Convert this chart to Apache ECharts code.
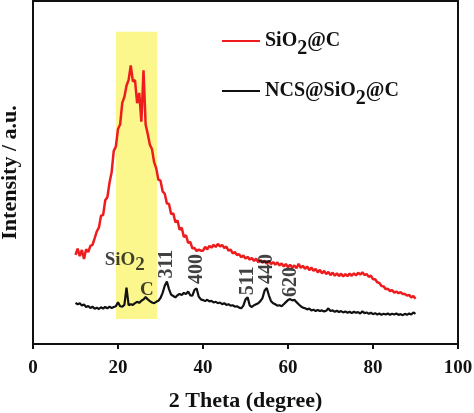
<!DOCTYPE html>
<html>
<head>
<meta charset="utf-8">
<script src="https://cdn.jsdelivr.net/npm/echarts@6/dist/echarts.min.js"></script>
<style>
html, body { margin: 0; padding: 0; background: #fff; }
#chart { width: 474px; height: 413px; }
</style>
</head>
<body>
<div id="chart"></div>
<script>
// 2 theta grid shared by both patterns
var angles = [
	10, 10.5, 11, 11.5, 12, 12.5, 13, 13.5, 14, 14.5,
	15, 15.5, 16, 16.5, 17, 17.5, 18, 18.5, 19, 19.5,
	20, 20.5, 21, 21.5, 22, 22.5, 23, 23.5, 24, 24.5,
	25, 25.5, 26, 26.5, 27, 27.5, 28, 28.5, 29, 29.5,
	30, 30.5, 31, 31.5, 32, 32.5, 33, 33.5, 34, 34.5,
	35, 35.5, 36, 36.5, 37, 37.5, 38, 38.5, 39, 39.5,
	40, 40.5, 41, 41.5, 42, 42.5, 43, 43.5, 44, 44.5,
	45, 45.5, 46, 46.5, 47, 47.5, 48, 48.5, 49, 49.5,
	50, 50.5, 51, 51.5, 52, 52.5, 53, 53.5, 54, 54.5,
	55, 55.5, 56, 56.5, 57, 57.5, 58, 58.5, 59, 59.5,
	60, 60.5, 61, 61.5, 62, 62.5, 63, 63.5, 64, 64.5,
	65, 65.5, 66, 66.5, 67, 67.5, 68, 68.5, 69, 69.5,
	70, 70.5, 71, 71.5, 72, 72.5, 73, 73.5, 74, 74.5,
	75, 75.5, 76, 76.5, 77, 77.5, 78, 78.5, 79, 79.5,
	80, 80.5, 81, 81.5, 82, 82.5, 83, 83.5, 84, 84.5,
	85, 85.5, 86, 86.5, 87, 87.5, 88, 88.5, 89, 89.5,
	90
];

// SiO2@C (red)
var sioc = [
	26.0, 27.8, 25.6, 27.4, 24.8, 27.6, 26.8, 28.6, 28.9, 30.8,
	32.8, 33.9, 37.4, 37.6, 41.9, 42.8, 47.0, 50.1, 56.3, 57.6,
	62.7, 64.0, 70.3, 72.0, 75.3, 77.0, 81.2, 76.6, 76.9, 70.2,
	73.2, 64.8, 79.8, 64.0, 61.2, 58.1, 56.8, 53.0, 51.2, 47.9,
	47.6, 44.5, 43.8, 41.0, 40.8, 37.9, 38.1, 35.5, 36.0, 33.3,
	33.9, 31.2, 31.7, 29.5, 29.8, 27.9, 28.0, 27.1, 27.5, 27.2,
	27.2, 28.3, 27.6, 28.6, 28.1, 28.9, 28.3, 29.2, 28.4, 28.9,
	28.0, 28.4, 27.2, 27.5, 26.4, 26.8, 25.9, 26.2, 25.3, 25.8,
	24.9, 25.4, 24.6, 25.1, 24.2, 24.9, 23.8, 24.5, 23.7, 24.3,
	23.4, 24.2, 23.3, 23.9, 23.1, 23.8, 22.9, 23.5, 22.6, 23.3,
	22.4, 23.1, 22.3, 22.9, 22.1, 23.4, 22.2, 22.8, 21.9, 22.6,
	21.5, 22.3, 21.3, 21.9, 20.9, 21.6, 20.6, 21.3, 20.4, 21.0,
	20.1, 20.8, 19.9, 20.6, 19.8, 20.5, 19.7, 20.4, 19.8, 20.5,
	19.9, 20.6, 20.0, 20.8, 20.2, 20.9, 20.1, 20.4, 19.6, 19.9,
	18.9, 18.9, 18.0, 17.8, 16.9, 16.8, 16.0, 16.1, 15.4, 15.7,
	15.0, 15.3, 14.8, 15.1, 14.6, 14.6, 14.1, 14.3, 13.6, 14.0,
	13.2
];

// NCS@SiO2@C (black)
var ncs = [
	12.0, 11.6, 11.9, 11.2, 11.5, 10.8, 11.1, 10.5, 10.9, 10.3,
	10.6, 10.2, 10.7, 10.3, 10.8, 10.4, 10.9, 10.5, 10.8, 11.0,
	12.2, 11.0, 10.9, 11.4, 16.4, 11.3, 11.6, 11.4, 11.9, 12.3,
	12.0, 12.6, 13.0, 13.7, 13.0, 12.5, 12.1, 11.9, 12.3, 12.6,
	13.4, 14.9, 17.0, 18.2, 16.0, 14.4, 14.0, 13.6, 14.2, 14.6,
	14.3, 14.9, 14.6, 15.3, 14.2, 14.1, 15.8, 16.2, 13.8, 13.0,
	12.8, 12.5, 12.9, 12.4, 12.6, 12.1, 12.3, 11.9, 12.1, 11.6,
	11.9, 11.4, 11.6, 11.2, 11.3, 10.9, 11.0, 10.6, 10.4, 11.2,
	13.0, 13.6, 11.2, 10.8, 11.3, 11.6, 11.9, 12.5, 13.4, 15.6,
	16.3, 14.2, 12.5, 11.9, 11.6, 11.2, 11.3, 11.0, 11.6, 12.2,
	12.8, 13.1, 12.7, 12.9, 12.2, 11.6, 11.0, 10.6, 10.4, 10.1,
	10.3, 9.8, 10.0, 9.6, 9.9, 9.6, 9.8, 9.5, 9.7, 10.4,
	9.6, 9.8, 9.4, 9.7, 9.3, 9.6, 9.2, 9.5, 9.1, 9.4,
	9.0, 9.4, 9.1, 9.3, 8.9, 9.5, 9.0, 9.2, 8.8, 9.1,
	8.7, 9.0, 8.6, 8.9, 8.5, 8.8, 8.6, 8.9, 8.5, 8.8,
	8.6, 8.9, 8.5, 8.7, 8.4, 8.8, 8.5, 8.9, 8.6, 9.2,
	8.8
];

// highlighted SiO2 region
var bandX = [19.5, 29.2];
var bandY = [7.3, 91];

// peak annotations [x, y, text, rotated]
var peakLabels = [
	[21.6, 24.5, 'SiO{s|2}', 0],
	[26.8, 15.8, 'C', 0],
	[31.4, 23.3, '311', 90],
	[38.5, 21.9, '400', 90],
	[50.6, 18.4, '511', 90],
	[55.1, 21.9, '440', 90],
	[60.6, 18.1, '620', 90]
];

function pairs(ys){
	var out = [];
	for (var i = 0; i < angles.length; i++) out.push([angles[i], ys[i]]);
	return out;
}

var font = "'Liberation Serif', 'Times New Roman', serif";
var myChart = echarts.init(document.getElementById('chart'));

var option = {
	animation: false,
	grid: { left: 33, right: 16, top: 1, bottom: 69, outerBoundsMode: 'none', containLabel: false },
	legend: {
		orient: 'vertical',
		left: 217,
		top: 26,
		itemGap: 22,
		itemWidth: 38,
		itemHeight: 14,
		data: [
			{ name: 'SiO2@C', icon: 'path://M0,6 L38,6 L38,8 L0,8 Z' },
			{ name: 'NCS@SiO2@C', icon: 'path://M0,6 L38,6 L38,8 L0,8 Z' }
		],
		formatter: function(name){
			return name.replace('SiO2', 'SiO{s|2}');
		},
		textStyle: {
			fontFamily: font,
			fontWeight: 'bold',
			fontSize: 20,
			color: '#111',
			rich: {
				s: { fontFamily: font, fontWeight: 'bold', fontSize: 20, color: '#111', verticalAlign: 'bottom', padding: [0, 0, -8, 0] }
			}
		}
	},
	xAxis: [{
		type: 'value',
		min: 0, max: 100, interval: 20,
		name: '2 Theta (degree)',
		nameLocation: 'middle',
		nameGap: 46,
		nameTextStyle: { fontFamily: font, fontWeight: 'bold', fontSize: 22, color: '#111' },
		axisLine: { show: true, lineStyle: { color: '#111', width: 2 } },
		axisTick: { show: true, length: 5, lineStyle: { color: '#111', width: 2 } },
		axisLabel: { margin: 15, fontFamily: font, fontWeight: 'bold', fontSize: 19, color: '#111' },
		splitLine: { show: false }
	}, {
		type: 'value', position: 'top',
		min: 0, max: 100,
		axisLine: { show: true, onZero: false, lineStyle: { color: '#111', width: 2 } },
		axisTick: { show: false },
		axisLabel: { show: false },
		splitLine: { show: false }
	}],
	yAxis: [{
		type: 'value',
		min: 0, max: 100,
		name: 'Intensity / a.u.',
		nameLocation: 'middle',
		nameGap: 12,
		nameTextStyle: { fontFamily: font, fontWeight: 'bold', fontSize: 22, color: '#111' },
		axisLine: { show: true, lineStyle: { color: '#111', width: 2 } },
		axisTick: { show: false },
		axisLabel: { show: false },
		splitLine: { show: false }
	}, {
		type: 'value', position: 'right',
		min: 0, max: 100,
		axisLine: { show: true, onZero: false, lineStyle: { color: '#111', width: 2 } },
		axisTick: { show: false },
		axisLabel: { show: false },
		splitLine: { show: false }
	}],
	series: [{
		name: 'band',
		type: 'line',
		data: [],
		z: 1,
		markArea: {
			silent: true,
			itemStyle: { color: '#fbf78c' },
			data: [[{ coord: [bandX[0], bandY[0]] }, { coord: [bandX[1], bandY[1]] }]]
		}
	}, {
		name: 'SiO2@C',
		type: 'line',
		z: 3,
		showSymbol: false,
		symbol: 'none',
		color: '#ee1c1c',
		lineStyle: { width: 2.5, color: '#ee1c1c' },
		data: pairs(sioc)
	}, {
		name: 'NCS@SiO2@C',
		type: 'line',
		z: 3,
		showSymbol: false,
		symbol: 'none',
		color: '#111',
		lineStyle: { width: 2.2, color: '#111' },
		data: pairs(ncs)
	}, {
		name: 'labels',
		type: 'scatter',
		z: 4,
		symbolSize: 0,
		silent: true,
		data: peakLabels.map(function(p){
			return {
				value: [p[0], p[1]],
				label: {
					show: true,
					position: 'inside',
					rotate: p[3],
					formatter: p[2],
					fontFamily: font,
					fontWeight: 'bold',
					fontSize: p[3] ? 20 : 19,
					color: '#111',
					rich: {
						s: { fontFamily: font, fontWeight: 'bold', fontSize: 19, color: '#111', padding: [10, 0, 0, 0] }
					}
				}
			};
		})
	}]
};
myChart.setOption(option);
</script>
</body>
</html>
